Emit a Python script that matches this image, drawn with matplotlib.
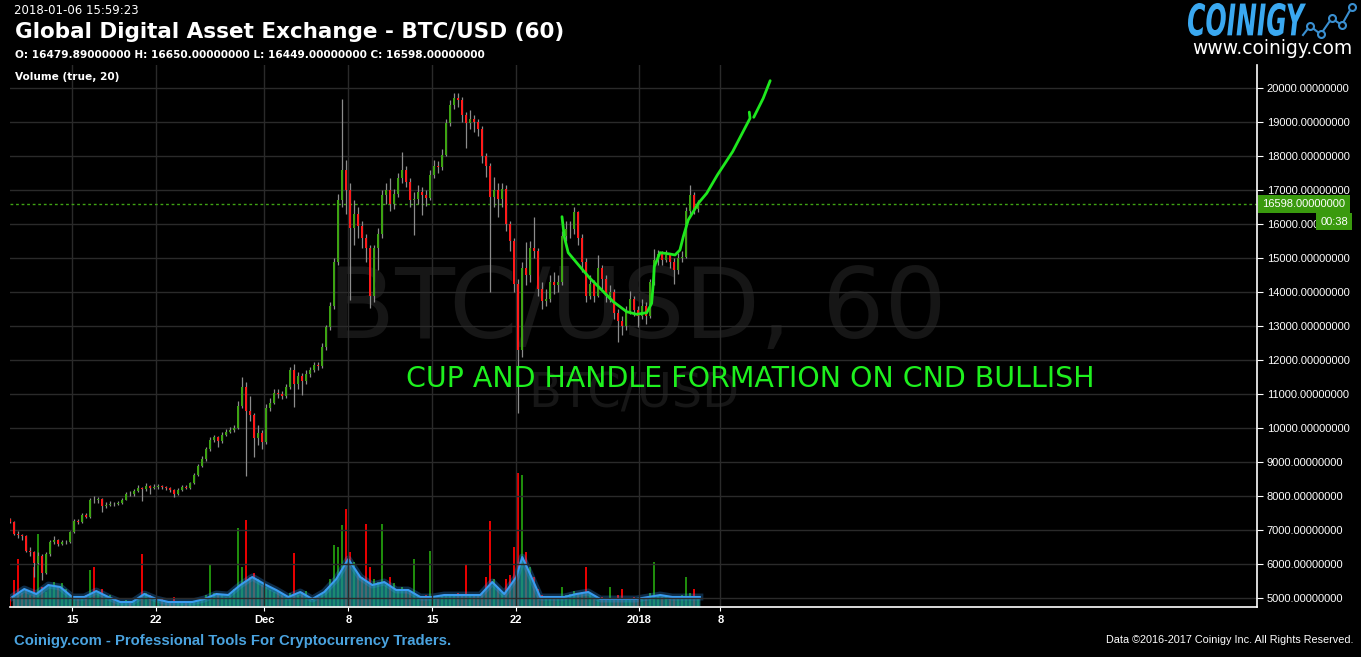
import numpy as np
import matplotlib
matplotlib.use("Agg")
import matplotlib.pyplot as plt
import matplotlib.transforms as mtransforms
from matplotlib.font_manager import FontProperties
from matplotlib.lines import Line2D
from matplotlib.patches import PathPatch
from matplotlib.textpath import TextPath

W, H = 1361, 657

# 8 hour candles, x axis = days since 2017-11-15 00:00
first_candle = -5.167
candle_step = 1 / 3
first_open = 7330

closes = [
    7250, 6900, 6850, 6820, 6400, 6350, 6050, 6250, 5750, 6300,
    6650, 6700, 6600, 6650, 6650, 6950, 7280, 7240, 7450, 7380,
    7900, 7880, 7920, 7700, 7750, 7780, 7770, 7800, 7900, 8070,
    8060, 8150, 8250, 8200, 8310, 8230, 8280, 8300, 8260, 8240,
    8180, 8070, 8180, 8270, 8250, 8380, 8640, 8880, 9100, 9380,
    9660, 9730, 9620, 9800, 9900, 9960, 10020, 10650, 11200, 10500,
    10400, 9700, 9850, 9600, 10600, 10750, 11050, 11010, 10960, 11200,
    11720, 11300, 11550, 11400, 11600, 11700, 11850, 11820, 12400, 12970,
    13600, 14900, 16700, 17600, 17000, 15900, 16300, 15950, 15600, 15300,
    13900, 15300, 15700, 16850, 17000, 16600, 16900, 17350, 17600, 17250,
    16700, 16750, 16950, 16850, 16770, 17450, 17700, 17680, 18050, 18970,
    19500, 19700, 19650, 19200, 18970, 19100, 19000, 18800, 18000, 17700,
    16800, 17000, 16750, 17050, 16000, 15500, 14250, 12300, 14700, 14500,
    15300, 15200, 14100, 13750, 13800, 14300, 14200, 14300, 15650, 15850,
    15850, 16350, 15600, 14900, 13900, 14250, 13900, 14700, 14400, 13880,
    14000, 13400, 13150, 13000, 13450, 13800, 13480, 13300, 13600, 13300,
    14300, 14950, 15130, 14960, 15100, 14900, 14650, 15000, 15050, 16400,
    16850, 16450, 16598]

highs = [
    7360, 7280, 6980, 6900, 6850, 6500, 6400, 6350, 6300, 6350,
    6700, 6820, 6750, 6720, 6700, 6980, 7320, 7330, 7500, 7520,
    7950, 8000, 7980, 7950, 7820, 7850, 7830, 7860, 7950, 8120,
    8150, 8200, 8320, 8280, 8400, 8340, 8350, 8360, 8340, 8300,
    8280, 8220, 8250, 8320, 8320, 8420, 8690, 8950, 9180, 9450,
    9750, 9800, 9760, 9880, 9980, 10030, 10100, 10800, 11500, 11350,
    10950, 10450, 10100, 9950, 10700, 10900, 11150, 11150, 11100, 11300,
    11800, 11890, 11650, 11620, 11700, 11800, 11950, 11950, 12500, 13050,
    13700, 15000, 16900, 19675, 17900, 17200, 16700, 16500, 16100, 15700,
    15400, 15400, 15900, 17000, 17200, 17350, 17050, 17500, 18140, 17700,
    17350, 16950, 17150, 17100, 17000, 17600, 17900, 17850, 18200, 19100,
    19650, 19850, 19870, 19750, 19300, 19350, 19200, 19100, 18900, 18100,
    17800, 17400, 17200, 17200, 17150, 16100, 15600, 14400, 14900, 15480,
    15500, 16215, 15300, 14300, 14100, 14500, 14600, 14500, 15800, 16100,
    16100, 16510, 16400, 15700, 15000, 14500, 14350, 15090, 14800, 14500,
    14200, 14100, 13500, 13300, 13600, 14050, 13900, 13600, 13800, 13700,
    14400, 15285, 15250, 15200, 15250, 15150, 15000, 15150, 15200, 16500,
    17145, 16950, 16700]

lows = [
    7200, 6850, 6780, 6700, 6350, 6250, 5620, 6000, 5550, 5700,
    6250, 6600, 6550, 6580, 6600, 6620, 6920, 7180, 7200, 7350,
    7350, 7800, 7800, 7530, 7650, 7700, 7700, 7740, 7760, 7880,
    8000, 8020, 8120, 7870, 8150, 8070, 8200, 8220, 8200, 8180,
    8120, 7970, 8040, 8150, 8200, 8220, 8350, 8600, 8850, 9050,
    9330, 9600, 9450, 9580, 9760, 9850, 9900, 9980, 10600, 8610,
    10200, 9150, 9500, 9400, 9550, 10500, 10700, 10900, 10850, 10900,
    11150, 10620, 11150, 10980, 11300, 11500, 11650, 11700, 11780, 12300,
    12900, 13500, 14800, 16500, 16300, 13780, 15400, 15600, 15300, 14900,
    13530, 13700, 14660, 15600, 16600, 16400, 16450, 16800, 17200, 17100,
    16500, 15690, 16600, 16275, 16550, 16700, 17350, 17500, 17600, 18000,
    18900, 19400, 19450, 19000, 18235, 18800, 18700, 18600, 17800, 17400,
    14020, 16500, 16200, 16500, 15800, 15200, 14000, 10445, 12100, 14200,
    14300, 15000, 13900, 13500, 13600, 13700, 13950, 14000, 14200, 15500,
    15600, 15700, 15400, 14600, 13700, 13800, 13700, 13850, 14100, 13700,
    13700, 13200, 12540, 12735, 12900, 13350, 13300, 12980, 13200, 13080,
    13250, 14200, 14800, 14800, 14900, 14700, 14255, 14550, 14900, 15000,
    16300, 16300, 16350]

volume = [
    10, 27, 48, 14, 18, 12, 40, 73, 20, 15,
    22, 25, 20, 24, 18, 12, 9, 11, 10, 12,
    37, 40, 14, 18, 10, 12, 8, 6, 5, 7,
    5, 6, 8, 53, 14, 12, 9, 7, 8, 5,
    6, 10, 5, 4, 5, 5, 6, 7, 8, 12,
    43, 14, 12, 12, 10, 12, 18, 79, 40, 87,
    30, 34, 28, 22, 20, 17, 15, 16, 12, 10,
    14, 54, 12, 15, 16, 9, 8, 10, 14, 18,
    28, 62, 60, 82, 98, 55, 45, 32, 30, 83,
    40, 28, 25, 83, 22, 30, 24, 18, 20, 18,
    16, 48, 12, 10, 12, 56, 10, 9, 11, 12,
    13, 12, 14, 11, 42, 12, 12, 11, 14, 30,
    86, 28, 20, 14, 28, 32, 60, 134, 132, 55,
    40, 30, 18, 12, 10, 9, 11, 10, 20, 12,
    13, 16, 14, 15, 40, 14, 8, 9, 10, 8,
    20, 9, 12, 18, 8, 9, 10, 8, 9, 10,
    14, 45, 12, 10, 11, 10, 9, 10, 12, 30,
    14, 18, 11]

# volume moving average (true, 20), read once per day
vol_ma_day = list(range(-5, 38)) + [37.5] + list(range(38, 52)) + [52.3]
vol_ma = [10, 18, 13, 22, 20, 10, 10, 16, 10, 5, 5, 13, 8, 5, 5, 5, 8, 13, 12,
          22, 30, 23, 17, 10, 15, 8, 15, 28, 48, 30, 22, 25, 17, 17, 10, 10,
          12, 12, 12, 12, 25, 13, 30, 50, 37, 10, 10, 10, 13, 15, 8, 8, 8, 8,
          10, 12, 10, 10, 10]

# hand drawn cup and handle line
cup_day = [40.81, 41.0, 41.33, 42.31, 43.14, 43.98, 45.08, 46.2, 47.03, 47.87,
           48.28, 48.42, 48.5, 48.98, 49.81, 50.23, 50.64, 50.92, 51.33, 52.17,
           52.87, 53.76, 55.03, 56.48, 56.42]
cup_price = [16224, 15635, 15165, 14753, 14412, 14118, 13724, 13429, 13353, 13400,
             13676, 14265, 14753, 15165, 15126, 15097, 15244, 15635, 16126, 16618,
             16912, 17450, 18135, 19118, 19300]
tip_day = [56.79, 57.58, 58.16]
tip_price = [19147, 19706, 20224]

last_price = 16598
price_ticks = list(range(5000, 20001, 1000))
date_tick_days = [0, 7, 16, 23, 30, 37, 47.25, 54]
date_tick_labels = ['15', '22', 'Dec', '8', '15', '22', '2018', '8']

assert len(closes) == len(highs) == len(lows) == len(volume)
assert len(vol_ma_day) == len(vol_ma)


def fx(px):
    return px / W


def fy(py):
    return 1 - py / H


closes = np.array(closes, float)
opens = np.concatenate([[first_open], closes[:-1]])
x = first_candle + candle_step * np.arange(len(closes))
up = closes >= opens

fig = plt.figure(figsize=(W / 100, H / 100), dpi=100, facecolor='black')
rect = [fx(10), fy(607), fx(1257) - fx(10), fy(65) - fy(607)]
xlim = (-5.19, 98.73)

# volume pane (behind the price axes)
axv = fig.add_axes(rect, zorder=0)
axv.set_facecolor('black')
axv.bar(x, volume, width=0.2, color=np.where(up, '#1f8c0c', '#e60000'), linewidth=0)
axv.fill_between(vol_ma_day, vol_ma, color='#1a8a95', alpha=0.75, lw=0)
axv.plot(vol_ma_day, vol_ma, color='#2f8fe8', lw=5, alpha=0.3)
axv.plot(vol_ma_day, vol_ma, color='#3a9cf0', lw=1.5)
axv.set_xlim(xlim)
axv.set_ylim(0, max(volume) * 4.05)
axv.set_xticks([])
axv.set_yticks([])
for s in axv.spines.values():
    s.set_visible(False)

# price pane
ax = fig.add_axes(rect, zorder=1)
ax.patch.set_visible(False)
ax.set_xlim(xlim)
ax.set_ylim(4744, 20685)
ax.set_yticks(price_ticks)
ax.set_yticklabels(['%.8f' % p for p in price_ticks])
ax.set_xticks(date_tick_days)
ax.set_xticklabels(date_tick_labels)
ax.grid(True, color='#2a2a2a', lw=1)
ax.set_axisbelow(True)
ax.yaxis.tick_right()
for side in ['top', 'left']:
    ax.spines[side].set_visible(False)
for side in ['bottom', 'right']:
    ax.spines[side].set_color('white')
    ax.spines[side].set_linewidth(1.2)
ax.tick_params(axis='y', colors='white', length=4, pad=3, labelsize=8)
ax.tick_params(axis='x', colors='white', length=3, pad=3, labelsize=8)
for lab in ax.get_yticklabels():
    lab.set_family('Liberation Sans')
for lab in ax.get_xticklabels():
    lab.set_family('Liberation Sans')
    lab.set_weight('bold')

# watermark
ax.text(fx(637), fy(338), 'BTC/USD, 60', transform=fig.transFigure, fontsize=70.5,
        color='#161616', ha='center', va='baseline', zorder=0.5)
ax.text(fx(634), fy(408), 'BTC/USD', transform=fig.transFigure, fontsize=34.5,
        color='#161616', ha='center', va='baseline', zorder=0.5)

# candles
ax.vlines(x, lows, highs, color='#8c8c8c', lw=0.9, zorder=3)
ax.bar(x, closes - opens, bottom=opens, width=0.2,
       color=np.where(up, '#3da312', '#ff1a1a'), linewidth=0, zorder=4)

ax.axhline(last_price, color='#3fa314', lw=1, ls=(0, (2, 2)), zorder=2)

ax.plot(cup_day, cup_price, color='#1ee81e', lw=2, zorder=5, solid_capstyle='round')
ax.plot(tip_day, tip_price, color='#1ee81e', lw=2, zorder=5, solid_capstyle='round')

ax.text(fx(406), fy(387), 'CUP AND HANDLE FORMATION ON CND BULLISH', transform=fig.transFigure,
        fontsize=20.5, color='#1ef01e', ha='left', va='baseline', zorder=6)

# last price tags
ax.annotate('%.8f' % last_price, xy=(1, last_price), xycoords=ax.get_yaxis_transform(),
            xytext=(4, 0), textcoords='offset points', ha='left', va='center',
            color='white', fontsize=8, family='Liberation Sans', annotation_clip=False,
            bbox=dict(boxstyle='square,pad=0.4', fc='#3a9a0e', ec='none'))
fig.text(fx(1348), fy(221.5), '00:38', color='white', fontsize=8, family='Liberation Sans',
         ha='right', va='center', bbox=dict(boxstyle='square,pad=0.35', fc='#3a9a0e', ec='none'))

# header
fig.text(fx(14), fy(11), '2018-01-06 15:59:23', color='white', fontsize=8.5, va='center')
fig.text(fx(15), fy(38), 'Global Digital Asset Exchange - BTC/USD (60)', color='white',
         fontsize=15.5, weight='bold', va='baseline')
fig.text(fx(15), fy(55), 'O: 16479.89000000 H: 16650.00000000 L: 16449.00000000 C: 16598.00000000',
         color='white', fontsize=7.6, weight='bold', va='center')
fig.text(fx(15), fy(77), 'Volume (true, 20)', color='white', fontsize=7.6, weight='bold', va='center')

# footer
fig.text(fx(14), fy(641), 'Coinigy.com - Professional Tools For Cryptocurrency Traders.',
         color='#4aa3df', fontsize=10.7, weight='bold', family='Liberation Sans', va='center')
fig.text(fx(1353), fy(640), 'Data \u00a92016-2017 Coinigy Inc. All Rights Reserved.',
         color='white', fontsize=7.8, family='Liberation Sans', ha='right', va='center')

# logo
fp = FontProperties(family='DejaVu Sans', weight='bold', style='italic')
tp = TextPath((0, 0), 'COINIGY', size=1, prop=fp)
bb = tp.get_extents()
lx0, ly0, lx1, ly1 = 1188, 3, 1306, 36
tr = (mtransforms.Affine2D().translate(-bb.x0, -bb.y0)
      .scale((lx1 - lx0) / bb.width / W, (ly1 - ly0) / bb.height / H)
      .translate(fx(lx0), fy(ly1)) + fig.transFigure)
fig.add_artist(PathPatch(tp, transform=tr, fc='#3aa8f0', ec='none'))
fig.text(fx(1272), fy(48), 'www.coinigy.com', color='white', fontsize=13.5, ha='center', va='center')
icon_x = [1303, 1310, 1320.7, 1331.7, 1341.7, 1351.7]
icon_y = [35, 26, 34.3, 18.3, 25, 7.3]
fig.add_artist(Line2D([fx(v) for v in icon_x], [fy(v) for v in icon_y], transform=fig.transFigure,
                      color='#3a8fd0', lw=1.5))
fig.add_artist(Line2D([fx(v) for v in icon_x[1:]], [fy(v) for v in icon_y[1:]], transform=fig.transFigure,
                      ls='none', marker='o', ms=5, mfc='black', mec='#3a8fd0', mew=1.5))

fig.savefig('out.png', dpi=100, facecolor='black')
